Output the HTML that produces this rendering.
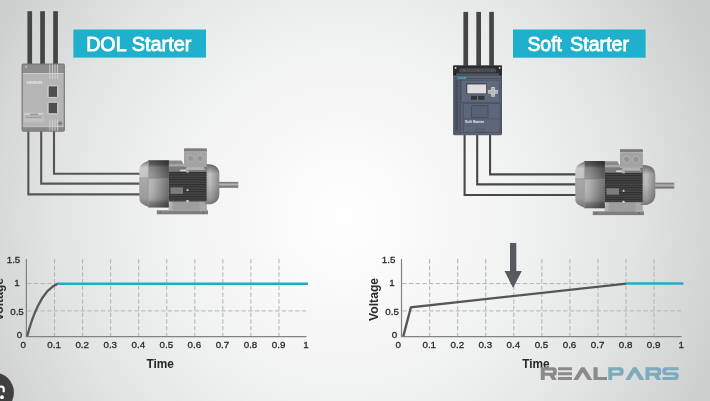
<!DOCTYPE html>
<html>
<head>
<meta charset="utf-8">
<title>DOL Starter vs Soft Starter</title>
<style>
  html, body { margin: 0; padding: 0; }
  body {
    width: 710px; height: 401px; overflow: hidden; position: relative;
    font-family: "Liberation Sans", sans-serif;
    background: #e4e4e4;
  }
  #bg {
    position: absolute; left: 0; top: 0; width: 710px; height: 401px;
    background:
      radial-gradient(circle 420px at 344px 218px, rgb(254,254,254) 0.0%, rgb(251,251,251) 14.3%, rgb(245,245,245) 31.0%, rgb(238,240,240) 47.6%, rgb(234,236,236) 54.8%, rgb(226,228,228) 69.0%, rgb(218,220,220) 78.6%, rgb(214,216,216) 83.8%, rgb(206,208,208) 93.3%, rgb(202,204,204) 100.0%);
  }
  svg { position: absolute; left: 0; top: 0; will-change: transform; }
  text { font-family: "Liberation Sans", sans-serif; }
</style>
</head>
<body>
<div id="bg"></div>
<svg width="710" height="401" viewBox="0 0 710 401">
  <defs>
    <!-- motor gradients -->
    <linearGradient id="fanV" x1="0" y1="0" x2="0" y2="1">
      <stop offset="0" stop-color="#5e5e5e"/>
      <stop offset="0.12" stop-color="#8f8f8f"/>
      <stop offset="0.42" stop-color="#c4c4c4"/>
      <stop offset="0.7" stop-color="#a0a0a0"/>
      <stop offset="1" stop-color="#6a6a6a"/>
    </linearGradient>
    <linearGradient id="fanH" x1="0" y1="0" x2="1" y2="0">
      <stop offset="0" stop-color="#ffffff" stop-opacity="0.25"/>
      <stop offset="0.35" stop-color="#ffffff" stop-opacity="0.1"/>
      <stop offset="0.6" stop-color="#000000" stop-opacity="0.05"/>
      <stop offset="1" stop-color="#000000" stop-opacity="0.4"/>
    </linearGradient>
    <linearGradient id="fanH2" x1="0" y1="0" x2="1" y2="0">
      <stop offset="0" stop-color="#b6b6b6"/>
      <stop offset="0.25" stop-color="#ababab"/>
      <stop offset="0.6" stop-color="#8b8b8b"/>
      <stop offset="1" stop-color="#676767"/>
    </linearGradient>
    <linearGradient id="fanV2" x1="0" y1="0" x2="0" y2="1">
      <stop offset="0" stop-color="#000" stop-opacity="0.55"/>
      <stop offset="0.08" stop-color="#000" stop-opacity="0.5"/>
      <stop offset="0.15" stop-color="#000" stop-opacity="0.24"/>
      <stop offset="0.38" stop-color="#000" stop-opacity="0.12"/>
      <stop offset="0.39" stop-color="#fff" stop-opacity="0.08"/>
      <stop offset="0.6" stop-color="#fff" stop-opacity="0.02"/>
      <stop offset="0.84" stop-color="#000" stop-opacity="0.1"/>
      <stop offset="0.9" stop-color="#000" stop-opacity="0.3"/>
      <stop offset="1" stop-color="#000" stop-opacity="0.42"/>
    </linearGradient>
    <linearGradient id="capV" x1="0" y1="0" x2="0" y2="1">
      <stop offset="0" stop-color="#6e6e6e"/>
      <stop offset="0.07" stop-color="#9a9a9a"/>
      <stop offset="0.15" stop-color="#c9c9c9"/>
      <stop offset="0.38" stop-color="#c3c3c3"/>
      <stop offset="0.39" stop-color="#a9a9a9"/>
      <stop offset="0.8" stop-color="#9c9c9c"/>
      <stop offset="0.9" stop-color="#868686"/>
      <stop offset="1" stop-color="#727272"/>
    </linearGradient>
    <linearGradient id="endV" x1="0" y1="0" x2="0" y2="1">
      <stop offset="0" stop-color="#6a6a6a"/>
      <stop offset="0.1" stop-color="#8c8c8c"/>
      <stop offset="0.24" stop-color="#c0c0c0"/>
      <stop offset="0.5" stop-color="#bcbcbc"/>
      <stop offset="0.85" stop-color="#9c9c9c"/>
      <stop offset="1" stop-color="#7a7a7a"/>
    </linearGradient>
    <linearGradient id="endH" x1="0" y1="0" x2="1" y2="0">
      <stop offset="0" stop-color="#ffffff" stop-opacity="0.2"/>
      <stop offset="0.4" stop-color="#000000" stop-opacity="0"/>
      <stop offset="1" stop-color="#000000" stop-opacity="0.28"/>
    </linearGradient>
    <linearGradient id="shaftV" x1="0" y1="0" x2="0" y2="1">
      <stop offset="0" stop-color="#6c6c6c"/>
      <stop offset="0.45" stop-color="#b4b4b4"/>
      <stop offset="1" stop-color="#5c5c5c"/>
    </linearGradient>
    <pattern id="fins" x="0" y="172" width="4" height="2.4" patternUnits="userSpaceOnUse">
      <rect x="0" y="0" width="4" height="1.1" fill="#2e2e2e"/>
    </pattern>

    <!-- motor -->
    <g id="motor">
      <!-- feet / pedestal -->
      <rect x="156.8" y="210.3" width="51.2" height="4" fill="#7e7e7e"/>
      <rect x="156.8" y="210.3" width="11.6" height="1" fill="#a2a2a2"/>
      <rect x="199.4" y="210.3" width="8.6" height="1" fill="#a2a2a2"/>
      <circle cx="160.4" cy="212.4" r="0.9" fill="#666"/>
      <circle cx="203.4" cy="212.4" r="0.9" fill="#666"/>
      <path d="M169.6 201 H206.2 L207 210.5 H168.4 Z" fill="#b2b2b2"/>
      <path d="M172.8 201 H199.6 L200 210.5 H172.4 Z" fill="#9e9e9e"/>
      <path d="M199.6 201 H206.2 L207 210.5 H200 Z" fill="#a9a9a9"/>
      <!-- shaft -->
      <rect x="217" y="181.9" width="21.3" height="5.8" fill="url(#shaftV)"/>
      <!-- right end shield -->
      <path d="M205.6 164 L211.5 164.6 Q219.3 166.5 219.3 174 V194 Q219.3 202 211 204.2 L204 204.2 L205.6 200 Z" fill="url(#endV)"/>
      <path d="M205.6 164 L211.5 164.6 Q219.3 166.5 219.3 174 V194 Q219.3 202 211 204.2 L204 204.2 L205.6 200 Z" fill="url(#endH)"/>
      <!-- upper housing behind terminal box -->
      <path d="M168 160.4 L181.4 160.4 L184.2 165.4 L184.2 172 L168 172 Z" fill="#8a8a8a"/>
      <path d="M168 164.2 H183.5 L184.2 165.4 V166.6 H168 Z" fill="#a9a9a9"/>
      <path d="M168 166.6 H184.2 V172 H168 Z" fill="#7c7c7c"/>
      <!-- base under terminal box -->
      <rect x="181" y="166.9" width="26" height="5" fill="#7a7a7a"/>
      <path d="M186.9 166.9 H203.5 L205.2 170 H185.2 Z" fill="#b2b2b2"/>
      <rect x="180.2" y="169.6" width="5.8" height="1.8" fill="#d6d6d6"/>
      <!-- finned body -->
      <rect x="168.5" y="171.8" width="37.8" height="29.5" fill="#484848"/>
      <rect x="168.5" y="172" width="37.8" height="29.3" fill="url(#fins)"/>
      <path d="M206.3 172 l1 1.2 l-1 1.2 l1 1.2 l-1 1.2 l1 1.2 l-1 1.2 l1 1.2 l-1 1.2 l1 1.2 l-1 1.2 l1 1.2 l-1 1.2 l1 1.2 l-1 1.2 l1 1.2 l-1 1.2 l1 1.2 l-1 1.2 l1 1.2 l-1 1.2 l1 1.2 l-1 1.2 l1 1.2 l-1 1.2 Z" fill="#484848"/>
      <!-- nameplate -->
      <rect x="170.4" y="187.4" width="12.6" height="6.5" fill="#7c7c7c"/>
      <circle cx="187.6" cy="190.1" r="1.1" fill="#c4c4c4"/>
      <rect x="186.3" y="170.4" width="2.4" height="2.2" fill="#bdbdbd"/>
      <rect x="186.3" y="200" width="2.4" height="2.2" fill="#c8c8c8"/>
      <!-- fan cover -->
      <path d="M148.2 160.3 H168.8 V207.4 H148.2 Z" fill="url(#fanH2)"/>
      <path d="M148.2 160.3 H168.8 V207.4 H148.2 Z" fill="url(#fanV2)"/>
      <path d="M148.5 160.7 L144.6 162.6 Q139.8 165.2 139.4 168.8 Q138.9 184 139.4 199.8 Q139.8 202.8 144.6 205.3 L148.5 207 Z" fill="url(#capV)"/>
      <path d="M139.2 178.1 H168.8" stroke="#7a7a7a" stroke-width="0.6" fill="none"/>
      <path d="M148.3 160.7 V207" stroke="#8a8a8a" stroke-width="0.5" fill="none"/>
      <!-- terminal box -->
      <rect x="184" y="148.4" width="22.9" height="18.5" rx="0.9" fill="#a3a3a3"/>
      <path d="M184 151.5 V149.3 Q184 148.4 184.9 148.4 H206 Q206.9 148.4 206.9 149.3 V151.5 Z" fill="#7c7c7c"/>
      <rect x="184" y="151.4" width="22.9" height="0.8" fill="#b4b4b4"/>
      <circle cx="190.8" cy="158.5" r="3.5" fill="#9b9b9b" stroke="#b6b6b6" stroke-width="0.8"/>
      <circle cx="200.1" cy="158.5" r="3.5" fill="#9b9b9b" stroke="#b6b6b6" stroke-width="0.8"/>
      <circle cx="190.8" cy="158.5" r="2" fill="#959595"/>
      <circle cx="200.1" cy="158.5" r="2" fill="#959595"/>
    </g>

    <!-- chart grid -->
    <g id="grid">
      <g stroke="#b2b2b2" stroke-width="1" stroke-dasharray="4.4 2.3" fill="none">
        <path d="M28.05 259 V336 M56.10 259 V336 M84.15 259 V336 M112.20 259 V336 M140.25 259 V336 M168.30 259 V336 M196.35 259 V336 M224.40 259 V336 M252.45 259 V336"/>
        <path d="M0.6 283.6 H279.5 M0.6 310.9 H279.5"/>
      </g>
      <path d="M-0.1 259 V337" stroke="#828282" stroke-width="1.2" fill="none"/>
      <path d="M-0.7 336.6 H280" stroke="#828282" stroke-width="1.3" fill="none"/>
      <g font-size="9.8" fill="#2a2a2a" stroke="#2a2a2a" stroke-width="0.3" text-anchor="middle">
        <text x="-3.4" y="348.1">0</text>
        <text x="27.65" y="348.1">0.1</text>
        <text x="55.70" y="348.1">0.2</text>
        <text x="83.75" y="348.1">0.3</text>
        <text x="111.80" y="348.1">0.4</text>
        <text x="139.85" y="348.1">0.5</text>
        <text x="167.90" y="348.1">0.6</text>
        <text x="195.95" y="348.1">0.7</text>
        <text x="224.00" y="348.1">0.8</text>
        <text x="252.05" y="348.1">0.9</text>
        <text x="279.6" y="348.1">1</text>
      </g>
      <g font-size="9.8" fill="#2a2a2a" stroke="#2a2a2a" stroke-width="0.3" text-anchor="end">
        <text x="-6.2" y="263.1">1.5</text>
        <text x="-6.9" y="286.3">1</text>
        <text x="-2.7" y="314.6">0.5</text>
        <text x="-4.3" y="338.3">0</text>
      </g>
    </g>
  </defs>

  <!-- ================= LEFT: DOL starter ================= -->
  <!-- incoming cables -->
  <g fill="#454545">
    <rect x="27.4" y="11.2" width="4.7" height="54"/>
    <rect x="40.2" y="11.2" width="4.7" height="54"/>
    <rect x="53.2" y="11.2" width="4.7" height="54"/>
  </g>
  <!-- outgoing wires -->
  <g stroke="#555555" stroke-width="2.1" fill="none">
    <path d="M28.35 131 V194.4 H141"/>
    <path d="M41.2 131 V183.6 H141"/>
    <path d="M54.0 131 V173.8 H141"/>
  </g>
  <!-- DOL box -->
  <g>
    <rect x="21.6" y="63.5" width="43.3" height="68.3" rx="1.8" fill="#787878"/>
    <rect x="22.8" y="73.6" width="40.9" height="53.2" fill="#b5b5b5"/>
    <rect x="22.8" y="64.6" width="40.9" height="8.4" fill="#8d8d8d"/>
    <rect x="22.8" y="73" width="40.9" height="0.9" fill="#d4d4d4"/>
    <rect x="22.8" y="127.2" width="40.9" height="3.5" fill="#878787"/>
    <rect x="22.8" y="126.4" width="40.9" height="0.8" fill="#cecece"/>
    <!-- stripes -->
    <g stroke="#d2d2d2" stroke-width="0.9">
      <path d="M49.8 64.6 V79.2 M52.4 64.6 V79.2 M55 64.6 V79.2 M57.6 64.6 V79.2"/>
      <path d="M49.8 119.6 V130.7 M52.4 119.6 V130.7 M55 119.6 V130.7 M57.6 119.6 V130.7"/>
    </g>
    <!-- buttons -->
    <rect x="48.1" y="85.8" width="9.6" height="11.6" rx="1" fill="#4e4e4e" stroke="#dcdcdc" stroke-width="1"/>
    <rect x="48.1" y="102.2" width="9.6" height="11.6" rx="1" fill="#4e4e4e" stroke="#dcdcdc" stroke-width="1"/>
    <!-- brand -->
    <text x="26.5" y="84" font-size="4.2" font-weight="bold" fill="#e8e8e8" textLength="16" lengthAdjust="spacingAndGlyphs" font-family="Liberation Serif, serif">SIEMENS</text>
    <!-- label plate -->
    <rect x="24.1" y="112.8" width="19.3" height="9.3" fill="#cbcbcb"/>
    <rect x="24.1" y="115.5" width="19.3" height="0.5" fill="#9a9a9a"/>
    <rect x="24.1" y="118.6" width="19.3" height="0.5" fill="#ababab"/>
    <rect x="24.1" y="119.1" width="19.3" height="3" fill="#c0c0c0"/>
    <rect x="30" y="113.8" width="8" height="0.9" fill="#808080"/>
    <rect x="25.2" y="116.7" width="17" height="0.9" fill="#808080"/>
    <!-- screws -->
    <circle cx="26.2" cy="66.8" r="1" fill="#dedede"/>
    <circle cx="26.2" cy="66.8" r="0.45" fill="#555"/>
    <circle cx="60.2" cy="123.4" r="1.8" fill="#9a9a9a" stroke="#707070" stroke-width="0.6"/>
    <circle cx="60.2" cy="123.4" r="0.7" fill="#4c4c4c"/>
  </g>
  <!-- DOL label -->
  <rect x="73.4" y="29.5" width="132.6" height="28.1" fill="#1eb0cc"/>
  <g font-size="20.2" fill="#ffffff" stroke="#ffffff" stroke-width="0.85">
    <text x="86.2" y="50.7" textLength="40.4" lengthAdjust="spacingAndGlyphs">DOL</text>
    <text x="131.8" y="50.7" textLength="59.6" lengthAdjust="spacingAndGlyphs">Starter</text>
  </g>
  <!-- motor left -->
  <use href="#motor"/>

  <!-- ================= RIGHT: Soft starter ================= -->
  <g fill="#454545">
    <rect x="463.4" y="11.9" width="4.7" height="55"/>
    <rect x="476.3" y="11.9" width="4.7" height="55"/>
    <rect x="489.2" y="11.9" width="4.7" height="55"/>
  </g>
  <g stroke="#484848" stroke-width="2.1" fill="none">
    <path d="M464.6 135 V195 H577"/>
    <path d="M477.2 135 V184.4 H577"/>
    <path d="M490.05 135 V174.4 H577"/>
  </g>
  <!-- soft starter body -->
  <g>
    <rect x="453.1" y="65.4" width="48.8" height="69.9" rx="1.4" fill="#5c6577"/>
    <path d="M453.1 65.4 H501.9 V75.5 H453.1 Z" fill="#2b2c2f"/>
    <path d="M459.2 72.4 V70 Q459.2 68.3 461 68.3 H494.4 Q496.2 68.3 496.2 70 V72.4 Z" fill="#494c52"/>
    <rect x="456.2" y="73.5" width="43" height="2" fill="#54585f"/>
    <g fill="#6a6e75"><rect x="463.6" y="70.2" width="1.4" height="1"/><rect x="477.2" y="70.2" width="1.4" height="1"/><rect x="491" y="70.2" width="1.4" height="1"/></g>
    <circle cx="455.6" cy="67.9" r="0.9" fill="#ececec"/>
    <circle cx="499.6" cy="67.9" r="0.9" fill="#ececec"/>
    <circle cx="455.2" cy="74.4" r="0.7" fill="#111"/>
    <circle cx="500" cy="74.4" r="0.7" fill="#111"/>
    <!-- left terminal strip -->
    <rect x="453.6" y="77" width="6.8" height="57" fill="#525b6b"/>
    <path d="M456.6 80.2 V131.4" stroke="#3c4350" stroke-width="2.6" stroke-dasharray="0.9 0.7"/>
    <path d="M460.5 79 V134.5" stroke="#444c5b" stroke-width="0.7"/>
    <!-- teal brand -->
    <rect x="457.9" y="76.8" width="8.2" height="2" fill="#4fa3b2"/>
    <rect x="459" y="77.4" width="6" height="0.8" fill="#2f7f8e"/>
    <path d="M466.1 78.5 H500.4" stroke="#454d5c" stroke-width="0.8"/>
    <!-- upper panel -->
    <rect x="461.2" y="80.2" width="38.4" height="22" fill="#5f697b" stroke="#465060" stroke-width="0.7"/>
    <rect x="466.3" y="83.3" width="20.4" height="10.9" fill="#3b414c"/>
    <rect x="467.3" y="84.4" width="18.8" height="9" fill="#dedede"/>
    <rect x="471" y="95.9" width="5.9" height="3.9" fill="#30343b"/>
    <rect x="478.3" y="95.9" width="6.1" height="3.9" fill="#30343b"/>
    <!-- d-pad -->
    <path d="M491.1 86.9 h3.9 v3.1 h2.9 v3.7 h-2.9 v3.1 h-3.9 v-3.1 h-3 v-3.7 h3 Z" fill="#c6c6c6"/>
    <rect x="491.8" y="90.7" width="2.5" height="2.3" fill="#b0b0b0"/>
    <g fill="#8e8e8e"><rect x="492.5" y="88" width="1.1" height="1.2"/><rect x="492.5" y="94.5" width="1.1" height="1.2"/><rect x="489.2" y="91.3" width="1.1" height="1.2"/><rect x="495.8" y="91.3" width="1.1" height="1.2"/></g>
    <!-- lower panel -->
    <rect x="463.2" y="103.6" width="36.8" height="29.1" fill="#5e6779" stroke="#475061" stroke-width="0.8"/>
    <rect x="471.6" y="105.6" width="16.4" height="12" fill="#596274" stroke="#424a59" stroke-width="0.8"/>
    <path d="M463.2 118.8 H500" stroke="#4a5364" stroke-width="0.7"/>
    <text x="465" y="123.4" font-size="4" fill="#e4e7eb" stroke="#e4e7eb" stroke-width="0.12" textLength="19" lengthAdjust="spacingAndGlyphs">Soft Starter</text>
    <rect x="500.9" y="76" width="1" height="58.5" fill="#4a5263"/>
    <rect x="475.2" y="129.3" width="9.6" height="2.2" rx="1.1" fill="#626b7d" stroke="#434b5a" stroke-width="0.6"/>
  </g>
  <!-- Soft label -->
  <rect x="513" y="29.5" width="132.6" height="28.2" fill="#1eb0cc"/>
  <g font-size="20.2" fill="#ffffff" stroke="#ffffff" stroke-width="0.85">
    <text x="527.4" y="50.7" textLength="34.6" lengthAdjust="spacingAndGlyphs">Soft</text>
    <text x="570.1" y="50.7" textLength="59" lengthAdjust="spacingAndGlyphs">Starter</text>
  </g>
  <!-- motor right -->
  <use href="#motor" transform="translate(436 0.8)"/>

  <!-- ================= LEFT CHART ================= -->
  <use href="#grid" transform="translate(26.5 0)"/>
  <path d="M27.2 336.2 C31.5 319 41.5 289.5 58 283.7" stroke="#585858" stroke-width="2.3" fill="none"/>
  <path d="M57.4 283.7 H308" stroke="#24aacb" stroke-width="2.6" fill="none"/>
  <text x="146.4" y="368.3" font-size="13.2" font-weight="bold" fill="#262626" textLength="27.5" lengthAdjust="spacingAndGlyphs">Time</text>
  <text transform="translate(3.1 299.4) rotate(-90)" text-anchor="middle" font-size="12" font-weight="bold" fill="#2b2b2b" textLength="43" lengthAdjust="spacingAndGlyphs">Voltage</text>

  <!-- ================= RIGHT CHART ================= -->
  <use href="#grid" transform="translate(401.6 0)"/>
  <path d="M403.3 336.2 L410.9 307.3 L626.6 283.6" stroke="#555555" stroke-width="2.4" fill="none" stroke-linejoin="miter"/>
  <path d="M626.6 283.6 H683.4" stroke="#24aacb" stroke-width="2.5" fill="none"/>
  <text x="522.2" y="368.4" font-size="13.2" font-weight="bold" fill="#262626" textLength="27.5" lengthAdjust="spacingAndGlyphs">Time</text>
  <text transform="translate(378.1 299.4) rotate(-90)" text-anchor="middle" font-size="12" font-weight="bold" fill="#2b2b2b" textLength="43" lengthAdjust="spacingAndGlyphs">Voltage</text>
  <!-- arrow -->
  <path d="M510 243 H516.3 V271 H521.8 L513.1 287.9 L504.5 271 H510 Z" fill="#565960"/>

  <!-- ================= RealPars logo ================= -->
  <g id="logo">
    <g fill="#8a8a8a">
      <path d="M540.8 367.3 H553.1999999999999 Q556.8 367.3 556.8 370.8 V372.4 Q556.8 375.3 554.1999999999999 375.7 L556.9 380 H552.1999999999999 L549.4 375.8 H544.6999999999999 V380 H540.8 Z M544.6999999999999 370.4 V372.8 H552.1999999999999 Q553.0999999999999 372.8 553.0999999999999 372 V371.2 Q553.0999999999999 370.4 552.1999999999999 370.4 Z" fill-rule="evenodd"/>
      <path d="M558 367.3 H572 V370.3 H558 Z M558 372.3 H572 V375.2 H558 Z M558 377.1 H572 V380 H558 Z"/>
      <path d="M573.2 380 L581.10 367.3 H584.50 L592.4 380 H587.60 L582.80 372.3 L578.00 380 Z"/>
      <path d="M593.5 367.3 H597.6 V377 H607 V380 H593.5 Z"/>
    </g>
    <g fill="#7babbd">
      <path d="M608.3 367.3 H620.0 Q623.6 367.3 623.6 370.8 V372.4 Q623.6 375.8 620.0 375.8 H612.1999999999999 V380 H608.3 Z M612.1999999999999 370.4 V372.8 H619.0 Q619.9 372.8 619.9 372 V371.2 Q619.9 370.4 619.0 370.4 Z" fill-rule="evenodd"/>
      <path d="M625.2 380 L633.10 367.3 H636.50 L644.4 380 H639.60 L634.80 372.3 L630.00 380 Z"/>
      <path d="M645.5 367.3 H657.6 Q661.2 367.3 661.2 370.8 V372.4 Q661.2 375.3 658.6 375.7 L661.3 380 H656.6 L653.8 375.8 H649.4 V380 H645.5 Z M649.4 370.4 V372.8 H656.6 Q657.5 372.8 657.5 372 V371.2 Q657.5 370.4 656.6 370.4 Z" fill-rule="evenodd"/>
      <path d="M665.8 367.3 H678.6 V370.3 H666.9 Q666.1 370.3 666.1 371.3 Q666.1 372.3 666.9 372.3 H675.2 Q678.8 372.3 678.8 376.1 Q678.8 380 675.2 380 H662.4 V377 H674.2 Q675 377 675 376.1 Q675 375.2 674.2 375.2 H665.8 Q662.3 375.2 662.3 371.3 Q662.3 367.3 665.8 367.3 Z"/>
    </g>
  </g>

  <!-- ================= Lens icon bottom-left ================= -->
  <circle cx="-6.1" cy="392.5" r="20" fill="#404040"/>
  <path d="M-2 386.6 H1.3 Q3.7 386.6 3.7 389 V392.3" stroke="#ffffff" stroke-width="2.2" fill="none"/>
  <circle cx="2" cy="397.2" r="1.9" fill="#ffffff"/>
</svg>
</body>
</html>
